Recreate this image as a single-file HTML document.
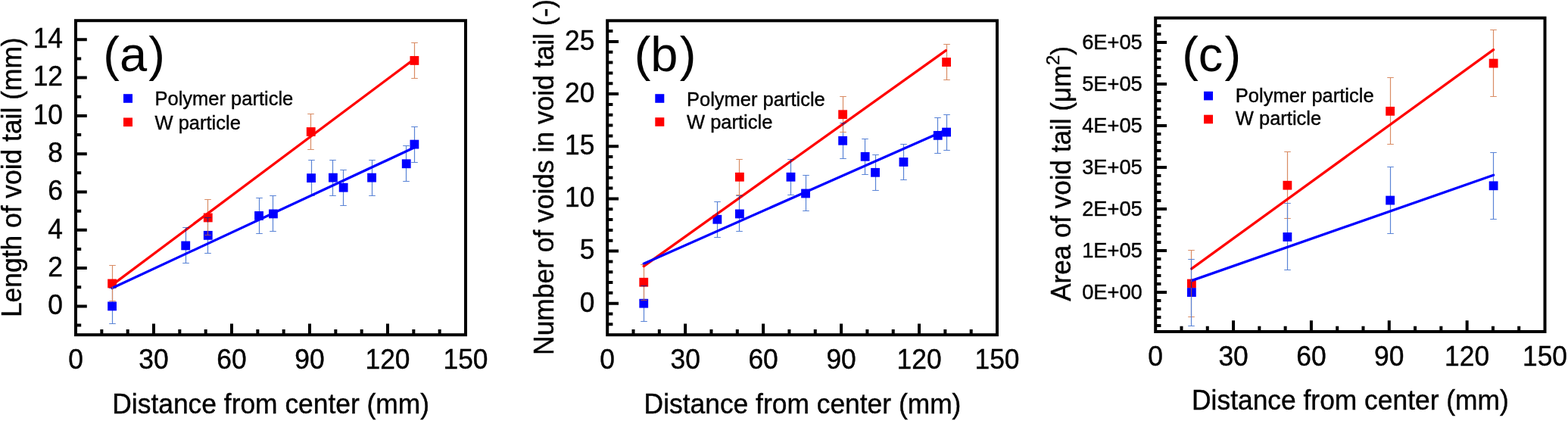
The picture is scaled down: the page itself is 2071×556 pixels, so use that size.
<!DOCTYPE html>
<html><head><meta charset="utf-8"><title>Void tail figure</title>
<style>html,body{margin:0;padding:0;background:#fff;} svg{display:block;} text{font-family:"Liberation Sans", Arial, sans-serif;fill:#000;stroke:#000;stroke-width:0.4px;}</style>
</head><body>
<svg width="2071" height="556" viewBox="0 0 2071 556">
<defs><mask id="mra" maskUnits="userSpaceOnUse" x="0" y="0" width="2071" height="556"><rect x="142.17" y="368.57" width="11.8" height="11.8" fill="#fff"/><rect x="268.86" y="281.55" width="11.8" height="11.8" fill="#fff"/><rect x="404.82" y="168.13" width="11.8" height="11.8" fill="#fff"/><rect x="541.46" y="74.06" width="11.8" height="11.8" fill="#fff"/><line x1="148.07" y1="376.38" x2="547.36" y2="77.85" stroke="#fff" stroke-width="3.3" stroke-linecap="round"/></mask><mask id="mba" maskUnits="userSpaceOnUse" x="0" y="0" width="2071" height="556"><rect x="142.17" y="398.5" width="11.8" height="11.8" fill="#fff"/><rect x="239.33" y="318.52" width="11.8" height="11.8" fill="#fff"/><rect x="268.86" y="304.94" width="11.8" height="11.8" fill="#fff"/><rect x="336.15" y="279.04" width="11.8" height="11.8" fill="#fff"/><rect x="355.03" y="276.52" width="11.8" height="11.8" fill="#fff"/><rect x="405.16" y="229.24" width="11.8" height="11.8" fill="#fff"/><rect x="434" y="228.74" width="11.8" height="11.8" fill="#fff"/><rect x="447.73" y="241.82" width="11.8" height="11.8" fill="#fff"/><rect x="485.16" y="228.74" width="11.8" height="11.8" fill="#fff"/><rect x="530.82" y="210.38" width="11.8" height="11.8" fill="#fff"/><rect x="541.46" y="184.72" width="11.8" height="11.8" fill="#fff"/><line x1="148.07" y1="380.48" x2="547.36" y2="194.8" stroke="#fff" stroke-width="3.3" stroke-linecap="round"/></mask><mask id="mrb" maskUnits="userSpaceOnUse" x="0" y="0" width="2071" height="556"><rect x="844.35" y="366.86" width="11.8" height="11.8" fill="#fff"/><rect x="970.99" y="227.87" width="11.8" height="11.8" fill="#fff"/><rect x="1107.24" y="145.31" width="11.8" height="11.8" fill="#fff"/><rect x="1244.18" y="76.16" width="11.8" height="11.8" fill="#fff"/><line x1="850.25" y1="351.6" x2="1249.39" y2="66.71" stroke="#fff" stroke-width="3.3" stroke-linecap="round"/></mask><mask id="mbb" maskUnits="userSpaceOnUse" x="0" y="0" width="2071" height="556"><rect x="844.35" y="394.8" width="11.8" height="11.8" fill="#fff"/><rect x="941.47" y="283.88" width="11.8" height="11.8" fill="#fff"/><rect x="970.99" y="276.55" width="11.8" height="11.8" fill="#fff"/><rect x="1038.6" y="227.87" width="11.8" height="11.8" fill="#fff"/><rect x="1058.16" y="249.58" width="11.8" height="11.8" fill="#fff"/><rect x="1107.24" y="179.88" width="11.8" height="11.8" fill="#fff"/><rect x="1136.75" y="200.9" width="11.8" height="11.8" fill="#fff"/><rect x="1150.14" y="221.92" width="11.8" height="11.8" fill="#fff"/><rect x="1187.55" y="208.09" width="11.8" height="11.8" fill="#fff"/><rect x="1232.85" y="172.97" width="11.8" height="11.8" fill="#fff"/><rect x="1244.18" y="168.68" width="11.8" height="11.8" fill="#fff"/><line x1="850.25" y1="348.15" x2="1249.39" y2="171.68" stroke="#fff" stroke-width="3.3" stroke-linecap="round"/></mask><mask id="mrc" maskUnits="userSpaceOnUse" x="0" y="0" width="2071" height="556"><rect x="1567.96" y="368.65" width="11.8" height="11.8" fill="#fff"/><rect x="1694.48" y="238.85" width="11.8" height="11.8" fill="#fff"/><rect x="1830.25" y="140.95" width="11.8" height="11.8" fill="#fff"/><rect x="1966.71" y="77.7" width="11.8" height="11.8" fill="#fff"/><line x1="1573.86" y1="354.92" x2="1972.61" y2="65.62" stroke="#fff" stroke-width="3.3" stroke-linecap="round"/></mask><mask id="mbc" maskUnits="userSpaceOnUse" x="0" y="0" width="2071" height="556"><rect x="1567.96" y="380.2" width="11.8" height="11.8" fill="#fff"/><rect x="1694.48" y="307.05" width="11.8" height="11.8" fill="#fff"/><rect x="1830.25" y="258.65" width="11.8" height="11.8" fill="#fff"/><rect x="1966.71" y="239.4" width="11.8" height="11.8" fill="#fff"/><line x1="1573.86" y1="370.65" x2="1972.61" y2="231.28" stroke="#fff" stroke-width="3.3" stroke-linecap="round"/></mask></defs>
<rect width="2071" height="556" fill="#fff"/>
<path d="M148.5 380.5V427.5M144.2 380.5H152.8M144.2 427.5H152.8M245.5 300.5V347.5M241.2 300.5H249.8M241.2 347.5H249.8M274.5 287.5V334.5M270.2 287.5H278.8M270.2 334.5H278.8M342.5 261.5V308.5M338.2 261.5H346.8M338.2 308.5H346.8M360.5 258.5V305.5M356.2 258.5H364.8M356.2 305.5H364.8M411.5 211.5V258.5M407.2 211.5H415.8M407.2 258.5H415.8M439.5 211.5V258.5M435.2 211.5H443.8M435.2 258.5H443.8M453.5 224.5V271.5M449.2 224.5H457.8M449.2 271.5H457.8M491.5 211.5V258.5M487.2 211.5H495.8M487.2 258.5H495.8M536.5 192.5V239.5M532.2 192.5H540.8M532.2 239.5H540.8M547.5 167.5V214.5M543.2 167.5H551.8M543.2 214.5H551.8" stroke="#5a84d6" stroke-width="1.2" fill="none"/>
<path d="M148.5 350.5V397.5M144.2 350.5H152.8M144.2 397.5H152.8M274.5 263.5V310.5M270.2 263.5H278.8M270.2 310.5H278.8M410.5 150.5V197.5M406.2 150.5H414.8M406.2 197.5H414.8M547.5 56.5V103.5M543.2 56.5H551.8M543.2 103.5H551.8" stroke="#d98c64" stroke-width="1.2" fill="none"/>
<rect x="142.17" y="368.57" width="11.8" height="11.8" fill="#ff0000"/>
<rect x="268.86" y="281.55" width="11.8" height="11.8" fill="#ff0000"/>
<rect x="404.82" y="168.13" width="11.8" height="11.8" fill="#ff0000"/>
<rect x="541.46" y="74.06" width="11.8" height="11.8" fill="#ff0000"/>
<rect x="142.17" y="398.5" width="11.8" height="11.8" fill="#0000ff"/>
<rect x="239.33" y="318.52" width="11.8" height="11.8" fill="#0000ff"/>
<rect x="268.86" y="304.94" width="11.8" height="11.8" fill="#0000ff"/>
<rect x="336.15" y="279.04" width="11.8" height="11.8" fill="#0000ff"/>
<rect x="355.03" y="276.52" width="11.8" height="11.8" fill="#0000ff"/>
<rect x="405.16" y="229.24" width="11.8" height="11.8" fill="#0000ff"/>
<rect x="434" y="228.74" width="11.8" height="11.8" fill="#0000ff"/>
<rect x="447.73" y="241.82" width="11.8" height="11.8" fill="#0000ff"/>
<rect x="485.16" y="228.74" width="11.8" height="11.8" fill="#0000ff"/>
<rect x="530.82" y="210.38" width="11.8" height="11.8" fill="#0000ff"/>
<rect x="541.46" y="184.72" width="11.8" height="11.8" fill="#0000ff"/>
<line x1="148.07" y1="376.38" x2="547.36" y2="77.85" stroke="#ff0000" stroke-width="3.3" stroke-linecap="round"/>
<line x1="148.07" y1="380.48" x2="547.36" y2="194.8" stroke="#0000ff" stroke-width="3.3" stroke-linecap="round"/>
<path d="M148.5 380.5V427.5M144.2 380.5H152.8M144.2 427.5H152.8M245.5 300.5V347.5M241.2 300.5H249.8M241.2 347.5H249.8M274.5 287.5V334.5M270.2 287.5H278.8M270.2 334.5H278.8M342.5 261.5V308.5M338.2 261.5H346.8M338.2 308.5H346.8M360.5 258.5V305.5M356.2 258.5H364.8M356.2 305.5H364.8M411.5 211.5V258.5M407.2 211.5H415.8M407.2 258.5H415.8M439.5 211.5V258.5M435.2 211.5H443.8M435.2 258.5H443.8M453.5 224.5V271.5M449.2 224.5H457.8M449.2 271.5H457.8M491.5 211.5V258.5M487.2 211.5H495.8M487.2 258.5H495.8M536.5 192.5V239.5M532.2 192.5H540.8M532.2 239.5H540.8M547.5 167.5V214.5M543.2 167.5H551.8M543.2 214.5H551.8" stroke="#30247a" stroke-width="1.2" fill="none" mask="url(#mra)"/>
<path d="M148.5 350.5V397.5M144.2 350.5H152.8M144.2 397.5H152.8M274.5 263.5V310.5M270.2 263.5H278.8M270.2 310.5H278.8M410.5 150.5V197.5M406.2 150.5H414.8M406.2 197.5H414.8M547.5 56.5V103.5M543.2 56.5H551.8M543.2 103.5H551.8" stroke="#a0505a" stroke-width="1.2" fill="none" mask="url(#mba)"/>
<path d="M134.33 442.2V435M168.67 442.2V435M203 442.2V427.4M237.33 442.2V435M271.67 442.2V435M306 442.2V427.4M340.33 442.2V435M374.67 442.2V435M409 442.2V427.4M443.33 442.2V435M477.67 442.2V435M512 442.2V427.4M546.33 442.2V435M580.67 442.2V435M100 404.4H114.8M100 354.1H114.8M100 303.8H114.8M100 253.5H114.8M100 203.2H114.8M100 152.9H114.8M100 102.6H114.8M100 52.3H114.8M100 429.55H107.2M100 379.25H107.2M100 328.95H107.2M100 278.65H107.2M100 228.35H107.2M100 178.05H107.2M100 127.75H107.2M100 77.45H107.2" stroke="#000" stroke-width="4.0" fill="none"/>
<rect x="100" y="27.2" width="515" height="415" fill="none" stroke="#000" stroke-width="4.0"/>
<text transform="translate(100 486.6) scale(1 1.045)" font-size="35.4" text-anchor="middle">0</text>
<text transform="translate(203 486.6) scale(1 1.045)" font-size="35.4" text-anchor="middle">30</text>
<text transform="translate(306 486.6) scale(1 1.045)" font-size="35.4" text-anchor="middle">60</text>
<text transform="translate(409 486.6) scale(1 1.045)" font-size="35.4" text-anchor="middle">90</text>
<text transform="translate(512 486.6) scale(1 1.045)" font-size="35.4" text-anchor="middle">120</text>
<text transform="translate(615 486.6) scale(1 1.045)" font-size="35.4" text-anchor="middle">150</text>
<text transform="translate(83 415.2) scale(1 1.045)" font-size="35.4" text-anchor="end">0</text>
<text transform="translate(83 364.9) scale(1 1.045)" font-size="35.4" text-anchor="end">2</text>
<text transform="translate(83 314.6) scale(1 1.045)" font-size="35.4" text-anchor="end">4</text>
<text transform="translate(83 264.3) scale(1 1.045)" font-size="35.4" text-anchor="end">6</text>
<text transform="translate(83 214) scale(1 1.045)" font-size="35.4" text-anchor="end">8</text>
<text transform="translate(83 163.7) scale(1 1.045)" font-size="35.4" text-anchor="end">10</text>
<text transform="translate(83 113.4) scale(1 1.045)" font-size="35.4" text-anchor="end">12</text>
<text transform="translate(83 63.1) scale(1 1.045)" font-size="35.4" text-anchor="end">14</text>
<text transform="translate(357.7 545.7) scale(1 1.045)" font-size="35.4" text-anchor="middle">Distance from center (mm)</text>
<text transform="translate(28.2 234.2) rotate(-90) scale(1 1.045)" font-size="35.4" text-anchor="middle">Length of void tail (mm)</text>
<text x="136.3" y="94.2" font-size="65" style="stroke:none">(a<tspan dx="2.2">)</tspan></text>
<rect x="163" y="124.2" width="12" height="11.6" fill="#0000ff"/>
<rect x="163" y="155.5" width="12" height="11.6" fill="#ff0000"/>
<text transform="translate(204.5 138.7) scale(1 1.045)" font-size="25.5">Polymer particle</text>
<text transform="translate(204.5 170.6) scale(1 1.045)" font-size="25.5">W particle</text>
<path d="M850.5 377.5V424.5M846.2 377.5H854.8M846.2 424.5H854.8M947.5 266.5V313.5M943.2 266.5H951.8M943.2 313.5H951.8M976.5 258.5V305.5M972.2 258.5H980.8M972.2 305.5H980.8M1044.5 210.5V257.5M1040.2 210.5H1048.8M1040.2 257.5H1048.8M1064.5 231.5V278.5M1060.2 231.5H1068.8M1060.2 278.5H1068.8M1113.5 162.5V209.5M1109.2 162.5H1117.8M1109.2 209.5H1117.8M1142.5 183.5V230.5M1138.2 183.5H1146.8M1138.2 230.5H1146.8M1156.5 204.5V251.5M1152.2 204.5H1160.8M1152.2 251.5H1160.8M1193.5 190.5V237.5M1189.2 190.5H1197.8M1189.2 237.5H1197.8M1238.5 155.5V202.5M1234.2 155.5H1242.8M1234.2 202.5H1242.8M1250.5 151.5V198.5M1246.2 151.5H1254.8M1246.2 198.5H1254.8" stroke="#5a84d6" stroke-width="1.2" fill="none"/>
<path d="M850.5 349.5V396.5M846.2 349.5H854.8M846.2 396.5H854.8M976.5 210.5V257.5M972.2 210.5H980.8M972.2 257.5H980.8M1113.5 127.5V174.5M1109.2 127.5H1117.8M1109.2 174.5H1117.8M1250.5 58.5V105.5M1246.2 58.5H1254.8M1246.2 105.5H1254.8" stroke="#d98c64" stroke-width="1.2" fill="none"/>
<rect x="844.35" y="366.86" width="11.8" height="11.8" fill="#ff0000"/>
<rect x="970.99" y="227.87" width="11.8" height="11.8" fill="#ff0000"/>
<rect x="1107.24" y="145.31" width="11.8" height="11.8" fill="#ff0000"/>
<rect x="1244.18" y="76.16" width="11.8" height="11.8" fill="#ff0000"/>
<rect x="844.35" y="394.8" width="11.8" height="11.8" fill="#0000ff"/>
<rect x="941.47" y="283.88" width="11.8" height="11.8" fill="#0000ff"/>
<rect x="970.99" y="276.55" width="11.8" height="11.8" fill="#0000ff"/>
<rect x="1038.6" y="227.87" width="11.8" height="11.8" fill="#0000ff"/>
<rect x="1058.16" y="249.58" width="11.8" height="11.8" fill="#0000ff"/>
<rect x="1107.24" y="179.88" width="11.8" height="11.8" fill="#0000ff"/>
<rect x="1136.75" y="200.9" width="11.8" height="11.8" fill="#0000ff"/>
<rect x="1150.14" y="221.92" width="11.8" height="11.8" fill="#0000ff"/>
<rect x="1187.55" y="208.09" width="11.8" height="11.8" fill="#0000ff"/>
<rect x="1232.85" y="172.97" width="11.8" height="11.8" fill="#0000ff"/>
<rect x="1244.18" y="168.68" width="11.8" height="11.8" fill="#0000ff"/>
<line x1="850.25" y1="351.6" x2="1249.39" y2="66.71" stroke="#ff0000" stroke-width="3.3" stroke-linecap="round"/>
<line x1="850.25" y1="348.15" x2="1249.39" y2="171.68" stroke="#0000ff" stroke-width="3.3" stroke-linecap="round"/>
<path d="M850.5 377.5V424.5M846.2 377.5H854.8M846.2 424.5H854.8M947.5 266.5V313.5M943.2 266.5H951.8M943.2 313.5H951.8M976.5 258.5V305.5M972.2 258.5H980.8M972.2 305.5H980.8M1044.5 210.5V257.5M1040.2 210.5H1048.8M1040.2 257.5H1048.8M1064.5 231.5V278.5M1060.2 231.5H1068.8M1060.2 278.5H1068.8M1113.5 162.5V209.5M1109.2 162.5H1117.8M1109.2 209.5H1117.8M1142.5 183.5V230.5M1138.2 183.5H1146.8M1138.2 230.5H1146.8M1156.5 204.5V251.5M1152.2 204.5H1160.8M1152.2 251.5H1160.8M1193.5 190.5V237.5M1189.2 190.5H1197.8M1189.2 237.5H1197.8M1238.5 155.5V202.5M1234.2 155.5H1242.8M1234.2 202.5H1242.8M1250.5 151.5V198.5M1246.2 151.5H1254.8M1246.2 198.5H1254.8" stroke="#30247a" stroke-width="1.2" fill="none" mask="url(#mrb)"/>
<path d="M850.5 349.5V396.5M846.2 349.5H854.8M846.2 396.5H854.8M976.5 210.5V257.5M972.2 210.5H980.8M972.2 257.5H980.8M1113.5 127.5V174.5M1109.2 127.5H1117.8M1109.2 174.5H1117.8M1250.5 58.5V105.5M1246.2 58.5H1254.8M1246.2 105.5H1254.8" stroke="#a0505a" stroke-width="1.2" fill="none" mask="url(#mbb)"/>
<path d="M836.52 442.2V435M870.84 442.2V435M905.16 442.2V427.4M939.48 442.2V435M973.8 442.2V435M1008.12 442.2V427.4M1042.44 442.2V435M1076.76 442.2V435M1111.08 442.2V427.4M1145.4 442.2V435M1179.72 442.2V435M1214.04 442.2V427.4M1248.36 442.2V435M1282.68 442.2V435M802.2 400.7H817M802.2 331.55H817M802.2 262.4H817M802.2 193.25H817M802.2 124.1H817M802.2 54.95H817M802.2 428.36H809.4M802.2 414.53H809.4M802.2 386.87H809.4M802.2 373.04H809.4M802.2 359.21H809.4M802.2 345.38H809.4M802.2 317.72H809.4M802.2 303.89H809.4M802.2 290.06H809.4M802.2 276.23H809.4M802.2 248.57H809.4M802.2 234.74H809.4M802.2 220.91H809.4M802.2 207.08H809.4M802.2 179.42H809.4M802.2 165.59H809.4M802.2 151.76H809.4M802.2 137.93H809.4M802.2 110.27H809.4M802.2 96.44H809.4M802.2 82.61H809.4M802.2 68.78H809.4M802.2 41.12H809.4" stroke="#000" stroke-width="4.0" fill="none"/>
<rect x="802.2" y="27.3" width="514.8" height="414.9" fill="none" stroke="#000" stroke-width="4.0"/>
<text transform="translate(802.2 486.6) scale(1 1.045)" font-size="35.4" text-anchor="middle">0</text>
<text transform="translate(905.16 486.6) scale(1 1.045)" font-size="35.4" text-anchor="middle">30</text>
<text transform="translate(1008.12 486.6) scale(1 1.045)" font-size="35.4" text-anchor="middle">60</text>
<text transform="translate(1111.08 486.6) scale(1 1.045)" font-size="35.4" text-anchor="middle">90</text>
<text transform="translate(1214.04 486.6) scale(1 1.045)" font-size="35.4" text-anchor="middle">120</text>
<text transform="translate(1317 486.6) scale(1 1.045)" font-size="35.4" text-anchor="middle">150</text>
<text transform="translate(785.4 411.5) scale(1 1.045)" font-size="35.4" text-anchor="end">0</text>
<text transform="translate(785.4 342.35) scale(1 1.045)" font-size="35.4" text-anchor="end">5</text>
<text transform="translate(785.4 273.2) scale(1 1.045)" font-size="35.4" text-anchor="end">10</text>
<text transform="translate(785.4 204.05) scale(1 1.045)" font-size="35.4" text-anchor="end">15</text>
<text transform="translate(785.4 134.9) scale(1 1.045)" font-size="35.4" text-anchor="end">20</text>
<text transform="translate(785.4 65.75) scale(1 1.045)" font-size="35.4" text-anchor="end">25</text>
<text transform="translate(1060 545.7) scale(1 1.045)" font-size="35.4" text-anchor="middle">Distance from center (mm)</text>
<text transform="translate(731 233.9) rotate(-90) scale(1 1.045)" font-size="35.4" text-anchor="middle">Number of voids in void tail (-)</text>
<text x="837.7" y="94.2" font-size="65" style="stroke:none">(b<tspan dx="2.2">)</tspan></text>
<rect x="865.3" y="124.2" width="12" height="11.6" fill="#0000ff"/>
<rect x="865.3" y="155.2" width="12" height="11.6" fill="#ff0000"/>
<text transform="translate(907 139.5) scale(1 1.045)" font-size="25.5">Polymer particle</text>
<text transform="translate(907 169.9) scale(1 1.045)" font-size="25.5">W particle</text>
<path d="M1573.5 330.5V418.5M1569.2 330.5H1577.8M1569.2 418.5H1577.8M1700.5 200.5V288.5M1696.2 200.5H1704.8M1696.2 288.5H1704.8M1836.5 102.5V190.5M1832.2 102.5H1840.8M1832.2 190.5H1840.8M1972.5 39.5V127.5M1968.2 39.5H1976.8M1968.2 127.5H1976.8" stroke="#d98c64" stroke-width="1.2" fill="none"/>
<path d="M1573.5 342.5V430.5M1569.2 342.5H1577.8M1569.2 430.5H1577.8M1700.5 268.5V356.5M1696.2 268.5H1704.8M1696.2 356.5H1704.8M1836.5 220.5V308.5M1832.2 220.5H1840.8M1832.2 308.5H1840.8M1972.5 201.5V289.5M1968.2 201.5H1976.8M1968.2 289.5H1976.8" stroke="#5a84d6" stroke-width="1.2" fill="none"/>
<rect x="1567.96" y="368.65" width="11.8" height="11.8" fill="#ff0000"/>
<rect x="1694.48" y="238.85" width="11.8" height="11.8" fill="#ff0000"/>
<rect x="1830.25" y="140.95" width="11.8" height="11.8" fill="#ff0000"/>
<rect x="1966.71" y="77.7" width="11.8" height="11.8" fill="#ff0000"/>
<rect x="1567.96" y="380.2" width="11.8" height="11.8" fill="#0000ff"/>
<rect x="1694.48" y="307.05" width="11.8" height="11.8" fill="#0000ff"/>
<rect x="1830.25" y="258.65" width="11.8" height="11.8" fill="#0000ff"/>
<rect x="1966.71" y="239.4" width="11.8" height="11.8" fill="#0000ff"/>
<line x1="1573.86" y1="354.92" x2="1972.61" y2="65.62" stroke="#ff0000" stroke-width="3.3" stroke-linecap="round"/>
<line x1="1573.86" y1="370.65" x2="1972.61" y2="231.28" stroke="#0000ff" stroke-width="3.3" stroke-linecap="round"/>
<path d="M1573.5 342.5V430.5M1569.2 342.5H1577.8M1569.2 430.5H1577.8M1700.5 268.5V356.5M1696.2 268.5H1704.8M1696.2 356.5H1704.8M1836.5 220.5V308.5M1832.2 220.5H1840.8M1832.2 308.5H1840.8M1972.5 201.5V289.5M1968.2 201.5H1976.8M1968.2 289.5H1976.8" stroke="#30247a" stroke-width="1.2" fill="none" mask="url(#mrc)"/>
<path d="M1573.5 330.5V418.5M1569.2 330.5H1577.8M1569.2 418.5H1577.8M1700.5 200.5V288.5M1696.2 200.5H1704.8M1696.2 288.5H1704.8M1836.5 102.5V190.5M1832.2 102.5H1840.8M1832.2 190.5H1840.8M1972.5 39.5V127.5M1968.2 39.5H1976.8M1968.2 127.5H1976.8" stroke="#a0505a" stroke-width="1.2" fill="none" mask="url(#mbc)"/>
<path d="M1560.49 438V430.8M1594.77 438V430.8M1629.06 438V423.2M1663.35 438V430.8M1697.63 438V430.8M1731.92 438V423.2M1766.21 438V430.8M1800.49 438V430.8M1834.78 438V423.2M1869.07 438V430.8M1903.35 438V430.8M1937.64 438V423.2M1971.93 438V430.8M2006.21 438V430.8M1526.2 386.1H1541M1526.2 331.1H1541M1526.2 276.1H1541M1526.2 221.1H1541M1526.2 166.1H1541M1526.2 111.1H1541M1526.2 56.1H1541M1526.2 430.1H1533.4M1526.2 419.1H1533.4M1526.2 408.1H1533.4M1526.2 397.1H1533.4M1526.2 375.1H1533.4M1526.2 364.1H1533.4M1526.2 353.1H1533.4M1526.2 342.1H1533.4M1526.2 320.1H1533.4M1526.2 309.1H1533.4M1526.2 298.1H1533.4M1526.2 287.1H1533.4M1526.2 265.1H1533.4M1526.2 254.1H1533.4M1526.2 243.1H1533.4M1526.2 232.1H1533.4M1526.2 210.1H1533.4M1526.2 199.1H1533.4M1526.2 188.1H1533.4M1526.2 177.1H1533.4M1526.2 155.1H1533.4M1526.2 144.1H1533.4M1526.2 133.1H1533.4M1526.2 122.1H1533.4M1526.2 100.1H1533.4M1526.2 89.1H1533.4M1526.2 78.1H1533.4M1526.2 67.1H1533.4M1526.2 45.1H1533.4M1526.2 34.1H1533.4" stroke="#000" stroke-width="4.0" fill="none"/>
<rect x="1526.2" y="23.7" width="514.3" height="414.3" fill="none" stroke="#000" stroke-width="4.0"/>
<text transform="translate(1526.2 482.6) scale(1 1.045)" font-size="35.4" text-anchor="middle">0</text>
<text transform="translate(1629.06 482.6) scale(1 1.045)" font-size="35.4" text-anchor="middle">30</text>
<text transform="translate(1731.92 482.6) scale(1 1.045)" font-size="35.4" text-anchor="middle">60</text>
<text transform="translate(1834.78 482.6) scale(1 1.045)" font-size="35.4" text-anchor="middle">90</text>
<text transform="translate(1937.64 482.6) scale(1 1.045)" font-size="35.4" text-anchor="middle">120</text>
<text transform="translate(2040.5 482.6) scale(1 1.045)" font-size="35.4" text-anchor="middle">150</text>
<text transform="translate(1508.8 394.5) scale(1 1.045)" font-size="27.3" text-anchor="end">0E+00</text>
<text transform="translate(1508.8 339.5) scale(1 1.045)" font-size="27.3" text-anchor="end">1E+05</text>
<text transform="translate(1508.8 284.5) scale(1 1.045)" font-size="27.3" text-anchor="end">2E+05</text>
<text transform="translate(1508.8 229.5) scale(1 1.045)" font-size="27.3" text-anchor="end">3E+05</text>
<text transform="translate(1508.8 174.5) scale(1 1.045)" font-size="27.3" text-anchor="end">4E+05</text>
<text transform="translate(1508.8 119.5) scale(1 1.045)" font-size="27.3" text-anchor="end">5E+05</text>
<text transform="translate(1508.8 64.5) scale(1 1.045)" font-size="27.3" text-anchor="end">6E+05</text>
<text transform="translate(1783.4 541.4) scale(1 1.045)" font-size="35.4" text-anchor="middle">Distance from center (mm)</text>
<text transform="translate(1414 229.4) rotate(-90) scale(1 1.045)" font-size="35.0" text-anchor="middle">Area of void tail (μm<tspan font-size="23.7" dy="-14.2">2</tspan><tspan dy="14.2">)</tspan></text>
<text x="1561.2" y="94.2" font-size="65" style="stroke:none">(c<tspan dx="2.2">)</tspan></text>
<rect x="1590" y="120.8" width="12" height="11.6" fill="#0000ff"/>
<rect x="1590" y="151.7" width="12" height="11.6" fill="#ff0000"/>
<text transform="translate(1631.8 134.6) scale(1 1.045)" font-size="25.5">Polymer particle</text>
<text transform="translate(1631.8 165.4) scale(1 1.045)" font-size="25.5">W particle</text>
</svg>
</body></html>
